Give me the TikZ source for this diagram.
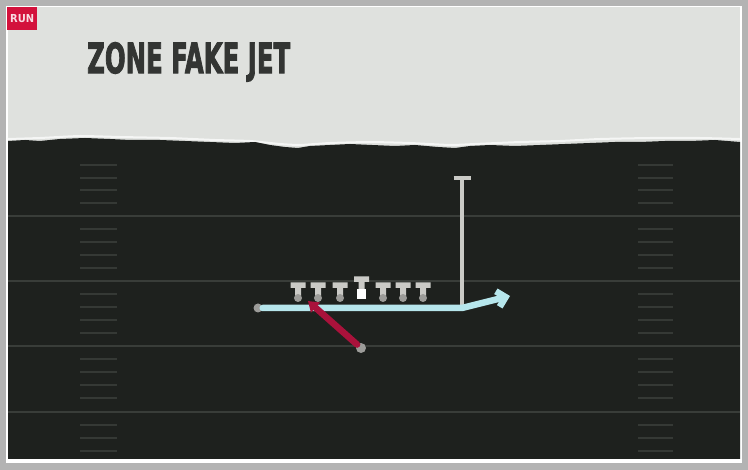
\documentclass[tikz,border=0pt]{standalone}
\usepackage{fontspec}
\usepackage{graphicx}
\setmainfont{DejaVu Sans}
\newfontfamily\titlefont{DejaVu Sans Condensed Bold}[FakeBold=2.5]
\newfontfamily\badgefont{DejaVu Sans Condensed Bold}
\usetikzlibrary{arrows.meta}

\definecolor{frame}{HTML}{B3B3B3}
\definecolor{paper}{HTML}{DFE1DE}
\definecolor{turf}{HTML}{1E211E}
\definecolor{chalk}{HTML}{393D39}
\definecolor{ink}{HTML}{333533}
\definecolor{runred}{HTML}{D3113C}
\definecolor{jetblue}{HTML}{B6E6EC}
\definecolor{backred}{HTML}{A9123B}
\definecolor{player}{HTML}{CACAC6}
\definecolor{stud}{HTML}{9C9C99}

\tikzset{
  yardline/.style={chalk, line width=1.5pt},
  hashmark/.style={chalk!85!turf, line width=1.2pt},
  foot/.style={circle, fill=stud, inner sep=0pt, minimum size=8pt},
  route/.style={jetblue, line width=6.5pt, line cap=round},
  handoff/.style={backred, line width=6.5pt, line cap=round},
}

\begin{document}
\begin{tikzpicture}[x=1pt,y=-1pt]
  \useasboundingbox (0,0) rectangle (748,470);

  % frame and torn paper
  \fill[frame] (0,0) rectangle (748,470);
  \fill[white] (6,6) rectangle (742,463);
  \fill[paper] (8,7) rectangle (740,459);
  \draw[white!70!paper, line width=2pt] plot[smooth, tension=0.3] coordinates {
    (8,139) (40,138) (80,136) (120,137) (170,138) (215,140) (250,141)
    (280,144) (300,145) (330,143) (370,142) (410,143) (450,145) (475,144)
    (520,142) (560,141) (600,139) (650,138) (700,138) (740,139)};
  \fill[turf] plot coordinates {
    (8,141) (25,140) (40,141) (60,139) (85,138) (110,139) (130,140)
    (160,140) (185,141) (210,142) (235,143) (255,142) (270,145) (285,147)
    (298,148) (310,146) (330,145) (350,144) (372,145) (395,146) (415,145)
    (438,147) (455,148) (470,146) (490,145) (515,146) (540,145) (565,144)
    (590,143) (615,142) (640,142) (665,141) (690,141) (715,140) (740,142)}
    -- (740,459) -- (8,459) -- cycle;

  % field markings
  \foreach \y in {216,281,346,412}
    \draw[yardline] (8,\y) -- (740,\y);
  \foreach \y in {165,178,190,203,229,242,255,268,294,307,320,333,
                  359,372,385,398,425,438,451} {
    \draw[hashmark] (80,\y) -- (117,\y);
    \draw[hashmark] (638,\y) -- (673,\y);
  }

  % labels
  \node[fill=runred, anchor=north west, minimum width=30pt, minimum height=23pt,
    inner sep=0pt, text=white!85!runred, font=\badgefont\fontsize{11}{11}\selectfont]
    (badge) at (7,7) {RUN};
  \node[anchor=north west, inner sep=0pt, text=ink] (title) at (87,42)
    {\resizebox{203pt}{31pt}{\titlefont ZONE FAKE JET}};

  % jet motion and route
  \node[foot, minimum size=9pt] (jet) at (258,308) {};
  \coordinate (turn) at (462,308);
  \coordinate (flat) at (510,296);
  \coordinate (post) at (462,176);
  \draw[player, line width=4pt, -{Bar[width=17pt]}] (turn) -- (post);
  \draw[route, -{Straight Barb[length=8pt, width=16pt]}] (jet) -- (turn) -- (flat);

  % offensive line
  \foreach \x/\n in {298/lt,318/lg,340/lgg,383/rg,403/rt,423/te} {
    \fill[player] (\x-7.5,282.5) rectangle (\x+7.5,288)
                  (\x-3,288) rectangle (\x+3,296);
    \node[foot] (\n) at (\x,298) {};
  }
  \fill[player] (354,276.5) rectangle (369,282) (358.5,282) rectangle (364.5,290);
  \node[fill=white, inner sep=0pt, minimum size=9.5pt] (center) at (361.5,294) {};

  % back
  \node[foot, minimum size=10pt] (back) at (361,348) {};
  \draw[handoff, -{Triangle[length=10pt, width=13pt]}] (back) -- (308,301);
\end{tikzpicture}
\end{document}
